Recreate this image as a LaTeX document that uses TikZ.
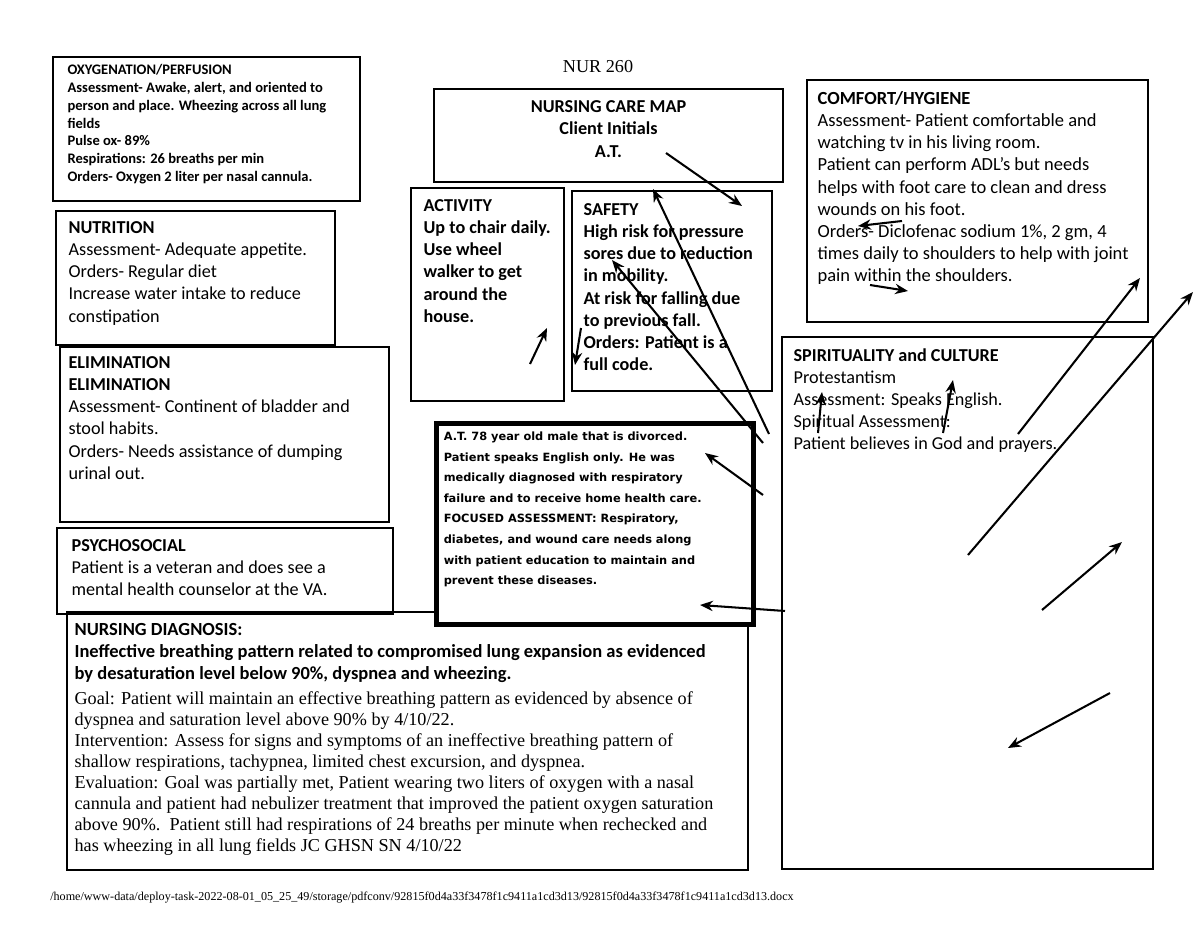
\documentclass[tikz,border=0pt]{standalone}
\usepackage{fontspec}
\setmainfont{Carlito}
\newfontfamily\timesfont{Liberation Serif}
\newfontfamily\verdfont{DejaVu Sans}
\usetikzlibrary{arrows.meta,fit,calc}

\begin{document}
\begin{tikzpicture}[x=0.66pt, y=-0.66pt,
  frame/.style={draw, line width=0.9pt, inner sep=0pt},
  heavy/.style={draw, line width=3.3pt, fill=white, inner sep=0pt},
  txt/.style={anchor=north west, inner sep=0pt, align=left, font=\fontsize{12}{14.6}\selectfont},
  arr/.style={-{Stealth[length=3mm,width=2.4mm]}, line width=1.35pt}]
\useasboundingbox (0,0) rectangle (1200,927);

\node[font=\timesfont\fontsize{12}{14}\selectfont] (nur) at (598,67) {NUR 260};

% boxes
\node[frame, fit={(53,57) (360,201)}] (oxy) {};
\node[frame, fit={(56,211) (335,345)}] (nutr) {};
\node[frame, fit={(60,347) (389,522)}] (elim) {};
\node[frame, fit={(57,528) (393,614)}] (psych) {};
\node[frame, fit={(67,612) (748,870)}] (diag) {};
\node[frame, fit={(434,89) (783,182)}] (map) {};
\node[frame, fit={(411,188) (564,401)}] (act) {};
\node[frame, fit={(572,191) (772,391)}] (safe) {};
\node[frame, fit={(807,80) (1148,322)}] (comf) {};
\node[frame, fit={(782,337) (1153,869)}] (spir) {};
\node[heavy, fit={(436,423) (753,624)}] (cent) {};

% texts
\node[txt, font=\bfseries\fontsize{9.6}{11.7}\selectfont] (oxytxt) at ($(oxy.north west)+(15,8)$)
  {OXYGENATION/PERFUSION\\
   Assessment- Awake, alert, and oriented to\\
   person and place. Wheezing across all lung\\
   fields\\
   Pulse ox- 89\%\\
   Respirations: 26 breaths per min\\
   Orders- Oxygen 2 liter per nasal cannula.};
\node[txt] (nutrtxt) at ($(nutr.north west)+(13,11)$)
  {\textbf{NUTRITION}\\
   Assessment- Adequate appetite.\\
   Orders- Regular diet\\
   Increase water intake to reduce\\
   constipation};
\node[txt] (elimtxt) at ($(elim.north west)+(9,10)$)
  {\textbf{ELIMINATION}\\
   \textbf{ELIMINATION}\\
   Assessment- Continent of bladder and\\
   stool habits.\\
   Orders- Needs assistance of dumping\\
   urinal out.};
\node[txt] (psychtxt) at ($(psych.north west)+(15,12)$)
  {\textbf{PSYCHOSOCIAL}\\
   Patient is a veteran and does see a\\
   mental health counselor at the VA.};
\node[txt, font=\bfseries\fontsize{12.2}{14.6}\selectfont] (diaghead) at ($(diag.north west)+(8,12)$)
  {NURSING DIAGNOSIS:\\
   Ineffective breathing pattern related to compromised lung expansion as evidenced\\
   by desaturation level below 90\%, dyspnea and wheezing.};
\node[txt, font=\timesfont\fontsize{12}{13.9}\selectfont] (diagbody) at ($(diag.north west)+(8,80)$)
  {Goal: Patient will maintain an effective breathing pattern as evidenced by absence of\\
   dyspnea and saturation level above 90\% by 4/10/22.\\
   Intervention: Assess for signs and symptoms of an ineffective breathing pattern of\\
   shallow respirations, tachypnea, limited chest excursion, and dyspnea.\\
   Evaluation: Goal was partially met, Patient wearing two liters of oxygen with a nasal\\
   cannula and patient had nebulizer treatment that improved the patient oxygen saturation\\
   above 90\%.\ \ Patient still had respirations of 24 breaths per minute when rechecked and\\
   has wheezing in all lung fields JC GHSN SN 4/10/22};
\node[txt, anchor=north, align=center, font=\bfseries\fontsize{12}{14.8}\selectfont] (maptxt) at ($(map.north)+(0,12)$)
  {NURSING CARE MAP\\ Client Initials\\ A.T.};
\node[txt, font=\bfseries\fontsize{12}{14.6}\selectfont] (acttxt) at ($(act.north west)+(13,12)$)
  {ACTIVITY\\
   Up to chair daily.\\
   Use wheel\\
   walker to get\\
   around the\\
   house.};
\node[txt, font=\bfseries\fontsize{12}{14.6}\selectfont] (safetxt) at ($(safe.north west)+(12,13)$)
  {SAFETY\\
   High risk for pressure\\
   sores due to reduction\\
   in mobility.\\
   At risk for falling due\\
   to previous fall.\\
   Orders: Patient is a\\
   full code.};
\node[txt, font=\fontsize{12.2}{14.6}\selectfont] (comftxt) at ($(comf.north west)+(11,12)$)
  {\textbf{COMFORT/HYGIENE}\\
   Assessment- Patient comfortable and\\
   watching tv in his living room.\\
   Patient can perform ADL’s but needs\\
   helps with foot care to clean and dress\\
   wounds on his foot.\\
   Orders- Diclofenac sodium 1\%, 2 gm, 4\\
   times daily to shoulders to help with joint\\
   pain within the shoulders.};
\node[txt] (spirtxt) at ($(spir.north west)+(12,12)$)
  {\textbf{SPIRITUALITY and CULTURE}\\
   Protestantism\\
   Assessment: Speaks English.\\
   Spiritual Assessment:\\
   Patient believes in God and prayers.};
\node[txt, font=\verdfont\bfseries\fontsize{7.5}{13.6}\selectfont] (centtxt) at ($(cent.north west)+(10,11)$)
  {A.T. 78 year old male that is divorced.\\
   Patient speaks English only. He was\\
   medically diagnosed with respiratory\\
   failure and to receive home health care.\\
   FOCUSED ASSESSMENT: Respiratory,\\
   diabetes, and wound care needs along\\
   with patient education to maintain and\\
   prevent these diseases.};

\node[anchor=west, inner sep=0pt, font=\timesfont\fontsize{8}{9}\selectfont] (path) at (50,898)
  {/home/www-data/deploy-task-2022-08-01\_05\_25\_49/storage/pdfconv/92815f0d4a33f3478f1c9411a1cd3d13/92815f0d4a33f3478f1c9411a1cd3d13.docx};

% arrows
\foreach \i/\xa/\ya/\xb/\yb in {1/666/153/742/206, 2/769/434/653/189, 3/763/443/612/260,
    4/581/328/575/365, 5/530/364/547/328, 6/763/495/705/453, 7/785/611/700/605,
    8/902/221/858/226, 9/870/285/908/291, 10/1018/434/1140/278, 11/968/555/1193/292,
    12/1042/610/1122/542, 13/1110/693/1008/748, 14/818/433/822/392, 15/943/433/953/380} {
  \coordinate (s\i) at (\xa,\ya);
  \coordinate (e\i) at (\xb,\yb);
  \draw[arr] (s\i) -- (e\i);
}
\end{tikzpicture}
\end{document}
